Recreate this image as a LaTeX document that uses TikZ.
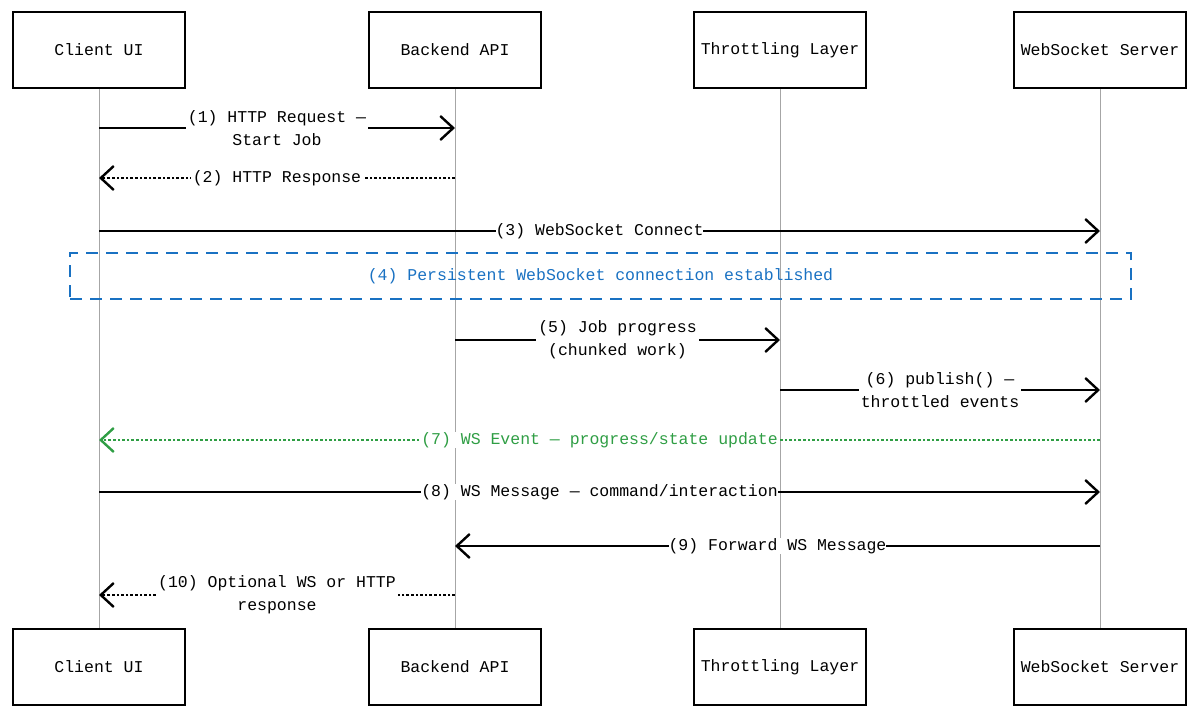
\documentclass[tikz,border=0pt]{standalone}
\usepackage{fontspec}
\setmainfont{Liberation Mono}
\usetikzlibrary{arrows.meta}
\definecolor{wsblue}{HTML}{1971C2}
\definecolor{wsgreen}{HTML}{2F9E44}
\begin{document}
\begin{tikzpicture}[x=1pt,y=-1pt,
    font=\fontsize{16.5}{23}\selectfont,
    actor/.style={draw=black, line width=1.8pt, minimum width=172pt, minimum height=76pt, inner sep=0pt},
    life/.style={draw=gray!70, line width=0.9pt},
    msg/.style={line width=2.6pt, -{Straight Barb[length=13pt,width=24pt,line width=2.4pt]}},
    reply/.style={msg, dotted},
    lbl/.style={fill=white, align=center, inner sep=2pt}]
\useasboundingbox (0,0) rectangle (1200,718);

% Actors, top and bottom
\node[actor] (cliT) at (99,50)   {Client UI};
\node[actor] (apiT) at (455,50)  {Backend API};
\node[actor] (thrT) at (780,50)  {Throttling Layer};
\node[actor] (wssT) at (1100,50) {WebSocket Server};
\node[actor] (cliB) at (99,667)   {Client UI};
\node[actor] (apiB) at (455,667)  {Backend API};
\node[actor] (thrB) at (780,667)  {Throttling Layer};
\node[actor] (wssB) at (1100,667) {WebSocket Server};

% Lifelines
\foreach \a in {cli,api,thr,wss}
    \draw[life] (\a T.south) -- (\a B.north);

% Messages
\draw[msg] (cliT.south |- 0,128) -- (apiT.south |- 0,128)
    node[lbl, midway] {(1) HTTP Request —\\Start Job};
\draw[reply] (apiT.south |- 0,178) -- (cliT.south |- 0,178)
    node[lbl, midway] {(2) HTTP Response};
\draw[msg] (cliT.south |- 0,231) -- (wssT.south |- 0,231)
    node[lbl, midway, inner sep=0pt] {(3) WebSocket Connect};

% Note
\node[draw=wsblue, dashed, line width=1.8pt, dash pattern=on 12pt off 8pt,
      minimum width=1061pt, minimum height=46pt, text=wsblue] (note) at (600.5,276)
      {(4) Persistent WebSocket connection established};

\draw[msg] (apiT.south |- 0,340) -- (thrT.south |- 0,340)
    node[lbl, midway] {(5) Job progress\\(chunked work)};
\draw[msg] (thrT.south |- 0,390) -- (wssT.south |- 0,390)
    node[lbl, midway] {(6) publish() —\\throttled events};
\draw[reply, draw=wsgreen] (wssT.south |- 0,440) -- (cliT.south |- 0,440)
    node[lbl, midway, text=wsgreen, inner sep=0pt] {(7) WS Event — progress/state update};
\draw[msg] (cliT.south |- 0,492) -- (wssT.south |- 0,492)
    node[lbl, midway, inner sep=0pt] {(8) WS Message — command/interaction};
\draw[msg] (wssT.south |- 0,546) -- (apiT.south |- 0,546)
    node[lbl, midway, inner sep=0pt] {(9) Forward WS Message};
\draw[reply] (apiT.south |- 0,595) -- (cliT.south |- 0,595)
    node[lbl, midway] {(10) Optional WS or HTTP\\response};
\end{tikzpicture}
\end{document}
